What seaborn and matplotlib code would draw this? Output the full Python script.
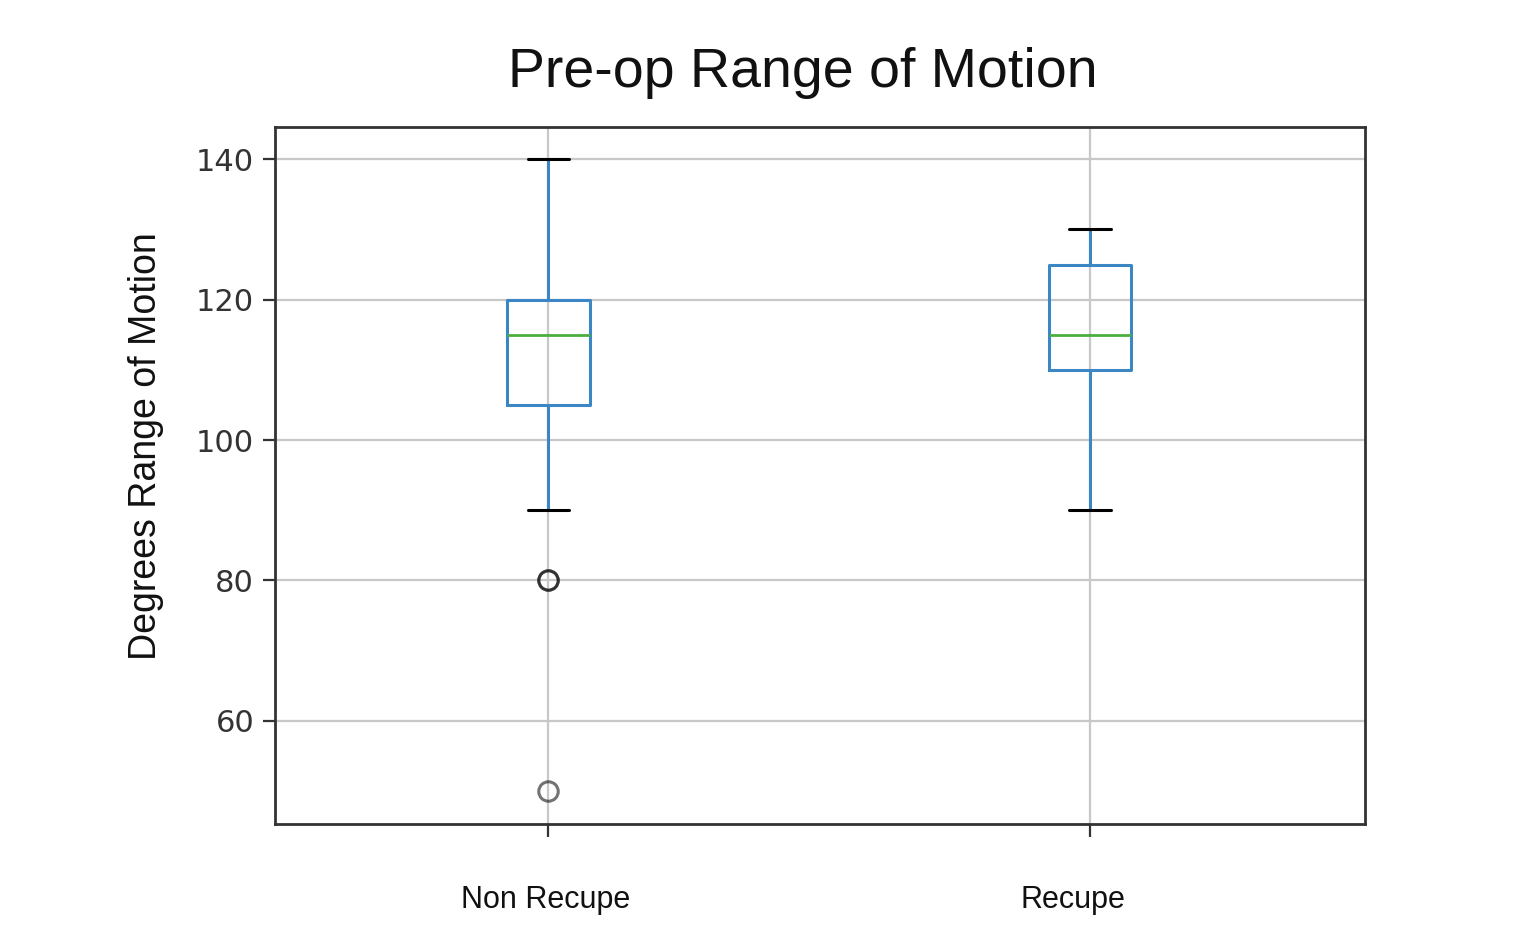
import pandas as pd
import matplotlib.pyplot as plt
import matplotlib.transforms as mtransforms
import seaborn as sns

# pre-op ROM values per group
non_recupe = [50, 80, 80, 90, 105, 110, 110, 115, 115, 115, 118, 120, 120, 125, 130, 135, 140]
recupe = [90, 110, 110, 115, 115, 120, 125, 125, 130]
groups = ['Non Recupe', 'Recupe']

df = pd.DataFrame({
    'group': [groups[0]] * len(non_recupe) + [groups[1]] * len(recupe),
    'rom': non_recupe + recupe,
})

sns.set_theme(style='ticks')
plt.rcParams['font.family'] = ['Liberation Sans', 'DejaVu Sans']

fig = plt.figure(figsize=(15.36, 9.43), dpi=100)
ax = fig.add_axes([275 / 1536, 1 - 824 / 943, 1090 / 1536, 697 / 943])

blue = '#3b86c4'
sns.boxplot(data=df, x='group', y='rom', order=groups, ax=ax,
            fill=False, width=0.152, linecolor=blue, linewidth=2.2,
            boxprops=dict(color=blue, linewidth=2.2),
            whiskerprops=dict(color=blue, linewidth=2.2),
            capprops=dict(color='black', linewidth=2.2),
            medianprops=dict(color='#4caf3f', linewidth=2),
            flierprops=dict(marker='o', markersize=14, markerfacecolor='none',
                            markeredgecolor=(0, 0, 0, 0.55), markeredgewidth=2.2))

ax.set_xlim(-0.505, 1.508)
ax.set_ylim(45.3, 144.6)
ax.set_yticks([60, 80, 100, 120, 140])
ax.grid(True, color='#c8c8c8', linewidth=1.6)
ax.set_axisbelow(True)
for s in ax.spines.values():
    s.set_color('#333333')
    s.set_linewidth(2)
ax.tick_params(axis='y', labelsize=22, length=9, width=1.6, color='#333333',
               labelcolor='#333333', pad=6)
ax.tick_params(axis='x', labelsize=22, length=9, width=1.6, color='#333333',
               labelcolor='#111111', pad=35)
for t in ax.get_yticklabels():
    t.set_family('DejaVu Sans')

# labels under the axis sit a bit left of their ticks
labs = ax.get_xticklabels()
for lab, dx in zip(labs, [-0.03, -0.17]):
    lab.set_transform(lab.get_transform() + mtransforms.ScaledTranslation(dx, 0, fig.dpi_scale_trans))

ax.set_xlabel('')
ax.set_ylabel('Degrees Range of Motion', fontsize=27, color='#111111')
ax.yaxis.set_label_coords(-0.102, 0.542)
fig.suptitle('Pre-op Range of Motion', fontsize=40, color='#111111',
             x=803 / 1536, y=1 - 47 / 943)

fig.savefig('out.png', dpi=100, facecolor='white')
